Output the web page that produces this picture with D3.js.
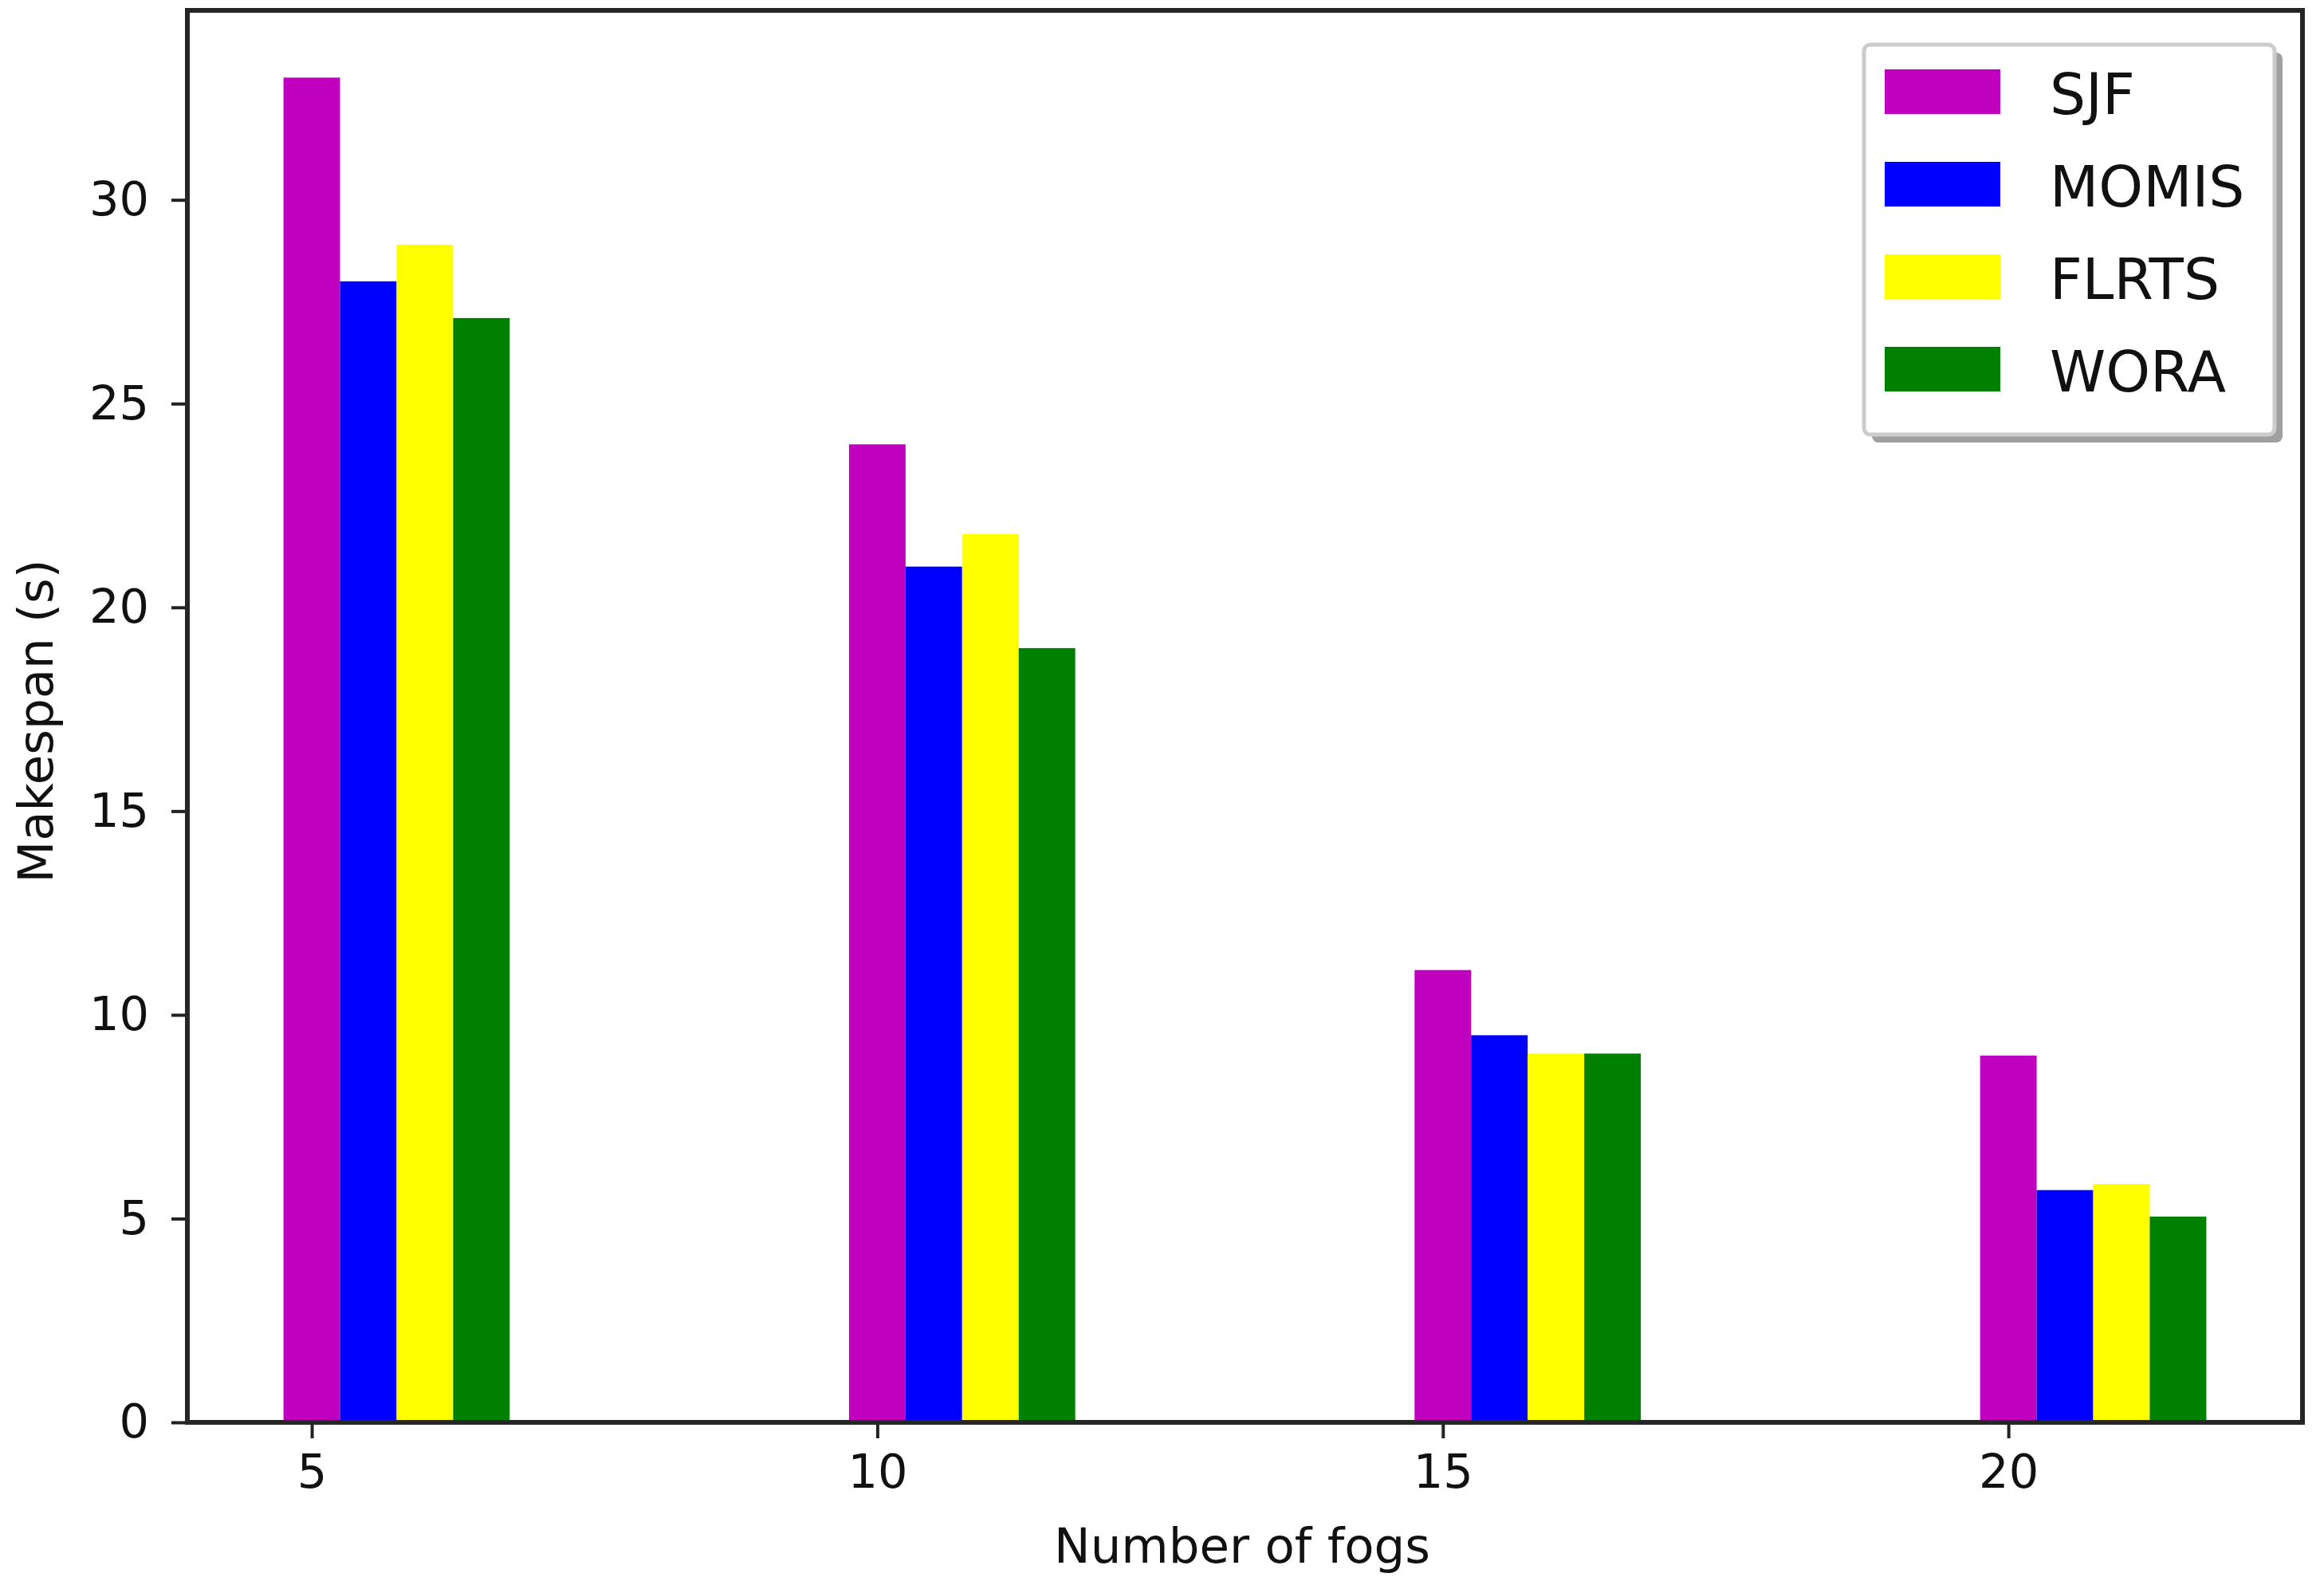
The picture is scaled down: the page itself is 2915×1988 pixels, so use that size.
<!DOCTYPE html>
<html>
<head>
<meta charset="utf-8">
<script src="https://cdn.jsdelivr.net/npm/d3@7"></script>
<style>
  body { margin: 0; background: #fff; }
  svg { display: block; font-family: "DejaVu Sans", sans-serif; }
</style>
</head>
<body>
<svg id="chart" width="2915" height="1988"></svg>
<script>
// data
const fogs = [5, 10, 15, 20];
const seriesNames = ['SJF', 'MOMIS', 'FLRTS', 'WORA'];
const sjf   = [33, 24, 11.1, 9];
const momis = [28, 21, 9.5, 5.7];
const flrts = [28.9, 21.8, 9.05, 5.85];
const wora  = [27.1, 19, 9.05, 5.05];
const yTicks = [0, 5, 10, 15, 20, 25, 30];
const colors = ['#bf00bf', '#0000ff', '#ffff00', '#008000'];

const allSeries = [sjf, momis, flrts, wora];
const barW = 0.5;

const margin = { top: 13, right: 27, bottom: 204, left: 235 };
const W = 2915, H = 1988;
const innerW = W - margin.left - margin.right;
const innerH = H - margin.top - margin.bottom;

const svg = d3.select('#chart');
const g = svg.append('g').attr('transform', `translate(${margin.left},${margin.top})`);

// matplotlib style autoscale with 5% margins
const xMin = fogs[0] - barW / 2, xMax = fogs[fogs.length - 1] + 3 * barW + barW / 2;
const xPad = (xMax - xMin) * 0.05;
const x = d3.scaleLinear().domain([xMin - xPad, xMax + xPad]).range([0, innerW]);
const yMax = d3.max(allSeries.flat()) * 1.05;
const y = d3.scaleLinear().domain([0, yMax]).range([innerH, 0]);

// bars
allSeries.forEach((vals, si) => {
  g.selectAll('.bar-' + si)
    .data(vals.map((v, i) => ({ fog: fogs[i], v })))
    .enter()
    .append('rect')
    .attr('class', 'bar-' + si)
    .attr('x', d => x(d.fog + si * barW - barW / 2))
    .attr('width', x(barW) - x(0))
    .attr('y', d => y(d.v))
    .attr('height', d => y(0) - y(d.v))
    .attr('fill', colors[si]);
});

// axes
const yAxis = g.append('g')
  .call(d3.axisLeft(y).tickValues(yTicks).tickSize(20).tickSizeOuter(0).tickPadding(28));
const xAxis = g.append('g')
  .attr('transform', `translate(0,${innerH})`)
  .call(d3.axisBottom(x).tickValues(fogs).tickSize(20).tickSizeOuter(0).tickPadding(20));

[xAxis, yAxis].forEach(a => {
  a.select('.domain').remove();
  a.selectAll('line').attr('stroke', '#222').attr('stroke-width', 4);
  a.selectAll('text').attr('font-size', 59).attr('fill', '#111')
    .attr('font-family', '"DejaVu Sans", sans-serif');
});

// frame
g.append('rect')
  .attr('width', innerW).attr('height', innerH)
  .attr('fill', 'none').attr('stroke', '#262626').attr('stroke-width', 6);

// axis labels
svg.append('text')
  .attr('x', 1558)
  .attr('y', 1960)
  .attr('text-anchor', 'middle')
  .attr('font-size', 61).attr('fill', '#111')
  .text('Number of fogs');
svg.append('text')
  .attr('transform', `translate(66,${margin.top + innerH / 2 + 6}) rotate(-90)`)
  .attr('text-anchor', 'middle')
  .attr('font-size', 61).attr('fill', '#111')
  .text('Makespan (s)');

// legend
const lg = svg.append('g').attr('transform', 'translate(2338,56)');
const lgW = 515, lgH = 489;
lg.append('rect')
  .attr('x', 10).attr('y', 10).attr('width', lgW).attr('height', lgH)
  .attr('rx', 8).attr('fill', '#a0a0a0');
lg.append('rect')
  .attr('width', lgW).attr('height', lgH).attr('rx', 8)
  .attr('fill', '#fff').attr('stroke', '#cccccc').attr('stroke-width', 5);
const rowH = 116;
const items = lg.selectAll('.item')
  .data(seriesNames)
  .enter()
  .append('g')
  .attr('transform', (d, i) => `translate(0,${31 + i * rowH})`);
items.append('rect')
  .attr('x', 26).attr('width', 145).attr('height', 56)
  .attr('fill', (d, i) => colors[i]);
items.append('text')
  .attr('x', 233).attr('y', 56)
  .attr('font-size', 71).attr('fill', '#111')
  .text(d => d);
</script>
</body>
</html>
